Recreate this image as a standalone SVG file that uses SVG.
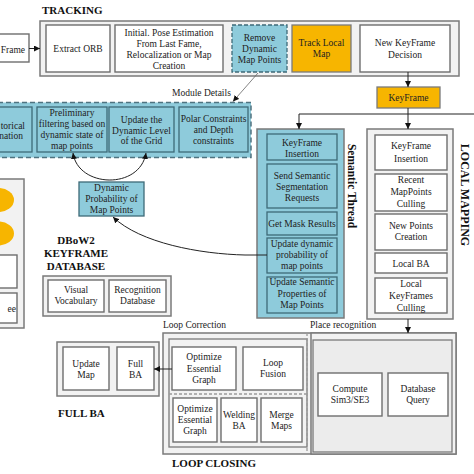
<svg xmlns="http://www.w3.org/2000/svg" width="474" height="474" viewBox="0 0 474 474">
<style>
.box{fill:#fff;stroke:#6e6e6e;stroke-width:1.4}
.grp{fill:#f2f2f2;stroke:#7a7a7a;stroke-width:1.5}
.blue{fill:#8ecbdb;stroke:#3e6a78;stroke-width:1.3}
.bgrp{fill:#8ecbdb;stroke:#7a7a7a;stroke-width:1.5}
.dash{fill:#8ecbdb;stroke:#4f7380;stroke-width:1.5;stroke-dasharray:5 3}
.org{fill:#f7b500;stroke:#7a7a7a;stroke-width:1.3}
text{font-family:"Liberation Serif","Times New Roman",serif;font-size:9.5px;fill:#222}
.m{text-anchor:middle}
.h{font-weight:bold;font-size:11px;fill:#111}
.c{stroke:#222;stroke-width:1;fill:none}
.g{stroke:#666;stroke-width:0.8;fill:none}
.sep{stroke:#9a9a9a;stroke-width:1.3;stroke-dasharray:3 2;fill:none}
</style>
<defs>
<marker id="ah" viewBox="0 0 10 10" refX="10" refY="5" markerWidth="6" markerHeight="6" orient="auto-start-reverse" markerUnits="userSpaceOnUse">
<path d="M0,0 L10,5 L0,10 z" fill="#111"/>
</marker>
</defs>
<rect width="474" height="474" fill="#fff"/>

<!-- TRACKING -->
<g id="tracking">
<text class="h" x="42" y="14">TRACKING</text>
<rect class="grp" x="40" y="21" width="419" height="55"/>
</g>
<g id="frame">
<rect class="box" x="-2" y="34" width="31" height="28"/>
<text x="25" y="52.5" style="text-anchor:end">Frame</text>
</g>
<g id="extract-orb">
<rect class="box" x="46" y="25" width="64" height="47"/>
<text class="m" x="78" y="52">Extract ORB</text>
</g>
<g id="initial-pose">
<rect class="box" x="115" y="25" width="108" height="47"/>
<text class="m" x="169" y="36">Initial. Pose Estimation</text>
<text class="m" x="169" y="47">From Last Fame,</text>
<text class="m" x="169" y="58">Relocalization or Map</text>
<text class="m" x="169" y="69">Creation</text>
</g>
<g id="remove-dynamic">
<rect x="232" y="25" width="55" height="47" fill="#8ecbdb" stroke="#3e6a78" stroke-width="1.3" stroke-dasharray="4 2"/>
<text class="m" x="259.5" y="41">Remove</text>
<text class="m" x="259.5" y="52">Dynamic</text>
<text class="m" x="259.5" y="63">Map Points</text>
</g>
<g id="track-local-map">
<rect class="org" x="292" y="25" width="59" height="47"/>
<text class="m" x="321.5" y="46">Track Local</text>
<text class="m" x="321.5" y="57">Map</text>
</g>
<g id="new-kf-decision">
<rect class="box" x="360" y="25" width="90" height="47"/>
<text class="m" x="405" y="46">New KeyFrame</text>
<text class="m" x="405" y="57.5">Decision</text>
</g>
<g id="keyframe">
<rect class="org" x="377" y="87" width="63" height="21"/>
<text class="m" x="408.5" y="101">KeyFrame</text>
</g>

<!-- Module details -->
<g id="module-details">
<text x="172" y="96">Module Details</text>
<rect class="dash" x="-2" y="102.5" width="253" height="55"/>
</g>
<g id="historical">
<rect class="blue" x="-2" y="107" width="34" height="45"/>
<text x="25" y="128.5" style="text-anchor:end">torical</text>
<text x="23" y="139" style="text-anchor:end">nation</text>
</g>
<g id="preliminary">
<rect class="blue" x="37" y="107" width="70" height="45"/>
<text class="m" x="72" y="116">Preliminary</text>
<text class="m" x="72" y="127">filtering based on</text>
<text class="m" x="72" y="137.5">dynamic state of</text>
<text class="m" x="72" y="149">map points</text>
</g>
<g id="update-grid">
<rect class="blue" x="109" y="107" width="65" height="45"/>
<text class="m" x="141.5" y="122.5">Update the</text>
<text class="m" x="141.5" y="133.5">Dynamic Level</text>
<text class="m" x="141.5" y="144">of the Grid</text>
</g>
<g id="polar">
<rect class="blue" x="179" y="107" width="69" height="45"/>
<text class="m" x="213.5" y="121.5">Polar Constraints</text>
<text class="m" x="213.5" y="132.5">and Depth</text>
<text class="m" x="213.5" y="144">constraints</text>
</g>
<g id="dyn-prob">
<rect class="blue" x="79" y="182" width="65" height="34"/>
<text class="m" x="111.5" y="190.5">Dynamic</text>
<text class="m" x="111.5" y="201.5">Probability of</text>
<text class="m" x="111.5" y="213">Map Points</text>
</g>

<!-- left partial -->
<g id="left-partial">
<rect class="grp" x="-2" y="179" width="26" height="149"/>
<ellipse cx="-2" cy="200" rx="16" ry="12" fill="#f7b500"/>
<ellipse cx="-2" cy="233.5" rx="16" ry="12" fill="#f7b500"/>
<rect class="box" x="-2" y="255" width="19" height="33"/>
<rect class="box" x="-2" y="293" width="19" height="30"/>
<text x="16" y="312" style="text-anchor:end">ee</text>
</g>

<!-- DBoW2 -->
<g id="dbow2">
<text class="h m" x="76" y="244">DBoW2</text>
<text class="h m" x="76" y="257">KEYFRAME</text>
<text class="h m" x="76" y="270">DATABASE</text>
<rect class="grp" x="43" y="276" width="128" height="40"/>
</g>
<g id="visual-vocab">
<rect class="box" x="48" y="280" width="56" height="32"/>
<text class="m" x="76" y="292.5">Visual</text>
<text class="m" x="76" y="304">Vocabulary</text>
</g>
<g id="recog-db">
<rect class="box" x="109" y="280" width="57" height="32"/>
<text class="m" x="137.5" y="292.5">Recognition</text>
<text class="m" x="137.5" y="304">Database</text>
</g>

<!-- Semantic thread -->
<g id="semantic-thread">
<rect class="bgrp" x="257" y="129" width="87" height="189"/>
<text class="h m" x="348" y="186" transform="rotate(90 348 186)" style="font-size:11.5px">Semantic Thread</text>
</g>
<g id="st-kf-insertion">
<rect class="blue" x="267" y="134" width="70" height="26"/>
<text class="m" x="302" y="145.5">KeyFrame</text>
<text class="m" x="302" y="156.5">Insertion</text>
</g>
<g id="st-send">
<rect class="blue" x="267" y="164" width="70" height="44"/>
<text class="m" x="302" y="178.5">Send Semantic</text>
<text class="m" x="302" y="189.5">Segmentation</text>
<text class="m" x="302" y="200.5">Requests</text>
</g>
<g id="st-mask">
<rect class="blue" x="267" y="212" width="70" height="23"/>
<text class="m" x="302" y="227">Get Mask Results</text>
</g>
<g id="st-update-dyn">
<rect class="blue" x="267" y="238" width="70" height="35"/>
<text class="m" x="302" y="246.5">Update dynamic</text>
<text class="m" x="302" y="258">probability of</text>
<text class="m" x="302" y="269">map points</text>
</g>
<g id="st-update-sem">
<rect class="blue" x="267" y="277" width="70" height="36"/>
<text class="m" x="302" y="285">Update Semantic</text>
<text class="m" x="302" y="296.5">Properties of</text>
<text class="m" x="302" y="307.5">Map Points</text>
</g>

<!-- Local mapping -->
<g id="local-mapping">
<rect class="grp" x="367" y="129" width="86" height="190"/>
<text class="h m" x="461" y="195" transform="rotate(90 461 195)" style="font-size:12px">LOCAL MAPPING</text>
</g>
<g id="lm-kf-insertion">
<rect class="box" x="375" y="135" width="72" height="35"/>
<text class="m" x="411" y="149">KeyFrame</text>
<text class="m" x="411" y="162">Insertion</text>
</g>
<g id="lm-recent">
<rect class="box" x="375" y="174" width="72" height="37"/>
<text class="m" x="411" y="182.5">Recent</text>
<text class="m" x="411" y="194.5">MapPoints</text>
<text class="m" x="411" y="206.5">Culling</text>
</g>
<g id="lm-new-points">
<rect class="box" x="375" y="214" width="72" height="36"/>
<text class="m" x="411" y="229">New Points</text>
<text class="m" x="411" y="240">Creation</text>
</g>
<g id="lm-local-ba">
<rect class="box" x="375" y="253" width="72" height="20"/>
<text class="m" x="411" y="266.5">Local BA</text>
</g>
<g id="lm-kf-culling">
<rect class="box" x="375" y="278" width="72" height="35"/>
<text class="m" x="411" y="287">Local</text>
<text class="m" x="411" y="299">KeyFrames</text>
<text class="m" x="411" y="310.5">Culling</text>
</g>

<!-- Loop closing -->
<g id="loop-closing">
<text x="163" y="328">Loop Correction</text>
<text x="310" y="328">Place recognition</text>
<rect class="grp" x="163" y="333" width="293" height="121"/>
<rect x="169" y="339" width="138" height="108" fill="none" stroke="#7a7a7a" stroke-width="1.3"/>
<rect x="311" y="333" width="145" height="121" fill="#f2f2f2" stroke="#7a7a7a" stroke-width="1.5"/>
<rect x="313" y="340" width="139" height="112" fill="#ececec" stroke="#7a7a7a" stroke-width="1.3"/>
<line class="sep" x1="307" y1="333" x2="307" y2="454"/>
<line class="sep" x1="169" y1="394" x2="307" y2="394"/>
<text class="h" x="172" y="467">LOOP CLOSING</text>
</g>
<g id="lc-opt-top">
<rect class="box" x="172" y="347" width="64" height="43"/>
<text class="m" x="204" y="360">Optimize</text>
<text class="m" x="204" y="371.5">Essential</text>
<text class="m" x="204" y="383">Graph</text>
</g>
<g id="lc-loop-fusion">
<rect class="box" x="243" y="347" width="60" height="43"/>
<text class="m" x="273" y="366">Loop</text>
<text class="m" x="273" y="377">Fusion</text>
</g>
<g id="lc-opt-bottom">
<rect class="box" x="173" y="398" width="44" height="44"/>
<text class="m" x="195" y="412">Optimize</text>
<text class="m" x="195" y="423">Essential</text>
<text class="m" x="195" y="434">Graph</text>
</g>
<g id="lc-welding">
<rect class="box" x="221" y="398" width="36" height="44"/>
<text class="m" x="239" y="417.5">Welding</text>
<text class="m" x="239" y="429">BA</text>
</g>
<g id="lc-merge">
<rect class="box" x="261" y="398" width="41" height="44"/>
<text class="m" x="281.5" y="417.5">Merge</text>
<text class="m" x="281.5" y="429">Maps</text>
</g>
<g id="pr-compute">
<rect class="box" x="318" y="373" width="64" height="43"/>
<text class="m" x="350" y="391.5">Compute</text>
<text class="m" x="350" y="402.5">Sim3/SE3</text>
</g>
<g id="pr-db-query">
<rect class="box" x="388" y="373" width="60" height="43"/>
<text class="m" x="418" y="391.5">Database</text>
<text class="m" x="418" y="402.5">Query</text>
</g>

<!-- Full BA -->
<g id="full-ba-group">
<rect class="grp" x="57" y="342" width="102" height="54"/>
<text class="h" x="58" y="417">FULL BA</text>
</g>
<g id="update-map">
<rect class="box" x="63" y="347" width="46" height="43"/>
<text class="m" x="86" y="366.5">Update</text>
<text class="m" x="86" y="377.5">Map</text>
</g>
<g id="full-ba">
<rect class="box" x="117" y="347" width="37" height="43"/>
<text class="m" x="135.5" y="366.5">Full</text>
<text class="m" x="135.5" y="377.5">BA</text>
</g>

<!-- connectors -->
<g id="connectors">
<line class="c" x1="29" y1="48.5" x2="40" y2="48.5" marker-end="url(#ah)"/>
<line class="g" x1="258" y1="73" x2="233" y2="101.5" marker-end="url(#ah)"/>
<line class="c" x1="408" y1="72" x2="408" y2="87" marker-end="url(#ah)"/>
<line class="c" x1="408" y1="108" x2="408" y2="129" marker-end="url(#ah)"/>
<line class="c" x1="299" y1="114" x2="474" y2="114"/>
<line class="c" x1="299" y1="114" x2="299" y2="129" marker-end="url(#ah)"/>
<path class="c" d="M73,153 C78,188 140,190 146,153" marker-start="url(#ah)" marker-end="url(#ah)"/>
<path class="c" d="M267,255 L245,255 C200,254 140,243 113,217" marker-end="url(#ah)"/>
<line class="c" x1="408" y1="319" x2="408" y2="333" marker-end="url(#ah)"/>
<line class="c" x1="172" y1="369" x2="154" y2="369" marker-end="url(#ah)"/>
</g>
</svg>
